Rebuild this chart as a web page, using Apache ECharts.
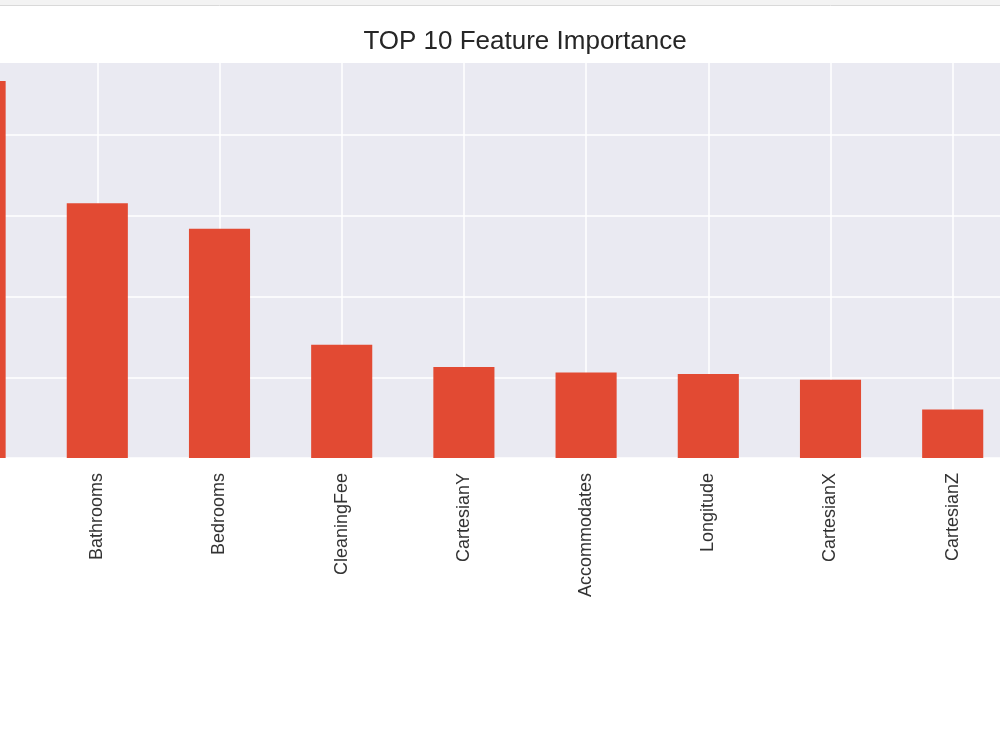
<!DOCTYPE html>
<html>
<head>
<meta charset="utf-8">
<script src="https://cdn.jsdelivr.net/npm/echarts@6/dist/echarts.min.js"></script>
<style>
  html, body { margin: 0; padding: 0; background: #fff; overflow: hidden; }
  /* the screenshot is a crop: the plot runs past both window edges */
  #chart { width: 1222px; height: 750px; margin-left: -86px; }
</style>
</head>
<body>
<div id="chart"></div>
<script>
// feature names (first and last fall outside the visible crop)
const features = [
  "RoomType", "Bathrooms", "Bedrooms", "CleaningFee", "CartesianY",
  "Accommodates", "Longitude", "CartesianX", "CartesianZ", "Latitude"
];
// importance values
const importance = [
  0.2335, 0.1578, 0.1419, 0.0701, 0.0563,
  0.0530, 0.0520, 0.0485, 0.0301, 0.0270
];
const yTicks = { min: 0, max: 0.2446, interval: 0.05 };

const chart = echarts.init(document.getElementById("chart"));

const option = {
  animation: false,
  title: {
    text: "TOP 10 Feature Importance",
    left: "center",
    top: 24,
    textStyle: {
      fontFamily: "Liberation Sans, Arial, sans-serif",
      fontSize: 26,
      fontWeight: "normal",
      color: "#262626",
    },
  },
  // notebook cell border at the top of the screenshot
  graphic: [
    { type: "rect", shape: { x: 0, y: 0, width: 1222, height: 5 }, style: { fill: "#f3f3f3" } },
    { type: "line", shape: { x1: 0, y1: 5.5, x2: 1222, y2: 5.5 }, style: { stroke: "#d9d9d9", lineWidth: 1 } },
  ],
  grid: {
    left: 0,
    top: 63,
    width: 1222,
    height: 395,
    show: true,
    backgroundColor: "#EAEAF2",
    borderWidth: 0,
  },
  xAxis: {
    type: "category",
    data: features,
    axisLine: { show: false },
    axisTick: { show: false },
    splitLine: {
      show: true,
      alignWithLabel: true,
      lineStyle: { color: "#ffffff", width: 1.5 },
    },
    axisLabel: {
      interval: 0,
      rotate: 90,
      margin: 15,
      fontFamily: "Liberation Sans, Arial, sans-serif",
      fontSize: 18,
      color: "#333333",
    },
  },
  yAxis: {
    type: "value",
    min: yTicks.min,
    max: yTicks.max,
    interval: yTicks.interval,
    axisLine: { show: false },
    axisTick: { show: false },
    axisLabel: { show: false },
    splitLine: {
      show: true,
      showMaxLine: false,
      lineStyle: { color: "#ffffff", width: 1.5 },
    },
  },
  series: [
    {
      type: "bar",
      data: importance,
      barWidth: "50%",
      itemStyle: { color: "#E24A33" },
    },
  ],
};

chart.setOption(option);
</script>
</body>
</html>
